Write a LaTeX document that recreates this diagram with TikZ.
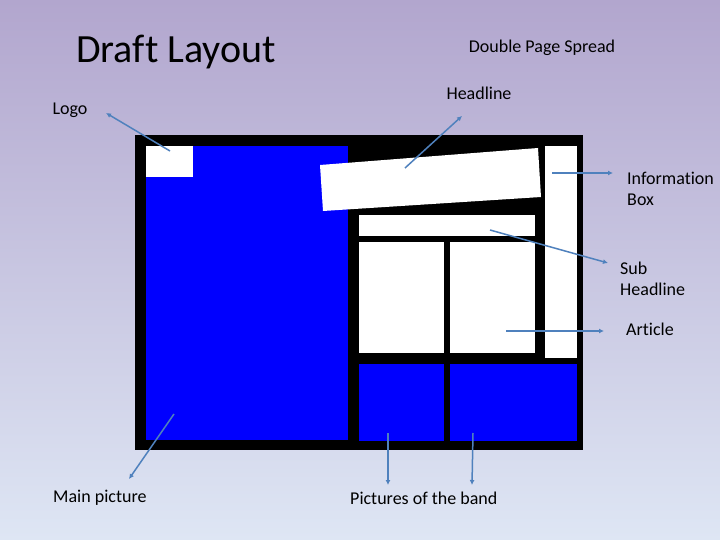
\documentclass[tikz,border=0pt]{standalone}
\usepackage{fontspec}
\setmainfont{Carlito}[Ligatures=NoCommon]
\usetikzlibrary{arrows.meta}
\definecolor{bgtop}{RGB}{178,166,206}
\definecolor{bgmid}{RGB}{198,209,233}
\definecolor{bgbot}{RGB}{222,230,244}
\definecolor{arrowc}{RGB}{79,129,189}
\definecolor{pblue}{RGB}{0,0,255}
\tikzset{
  arr/.style={draw=arrowc, line width=1.5pt, -{Latex[length=5pt,width=5pt]}},
  lbl/.style={inner sep=0pt, font=\fontsize{18}{21}\selectfont, align=left, text=black},
  whitebox/.style={fill=white},
  bluebox/.style={fill=pblue}
}
\begin{document}
\begin{tikzpicture}[x=1pt,y=-1pt]
\shade[top color=bgtop, middle color=bgmid, bottom color=bgbot] (0pt,0pt) rectangle (720pt,-540pt);
\useasboundingbox (0pt,0pt) rectangle (720pt,-540pt);
% frame
\fill[black] (135,135) rectangle (583,450);
\fill[bluebox] (146,146) rectangle (348,440);
\fill[whitebox] (146,146) rectangle (193,177);
\fill[whitebox] (320,165) -- (538,148) -- (541,197) -- (323,211) -- cycle;
\fill[whitebox] (545,146) rectangle (577,358);
\fill[whitebox] (359,215) rectangle (535,236);
\fill[whitebox] (359,242) rectangle (444,353);
\fill[whitebox] (450,242) rectangle (535,353);
\fill[bluebox] (359,364) rectangle (444,441);
\fill[bluebox] (450,364) rectangle (577,441);
% texts
\node[lbl, font=\fontsize{40}{46}\selectfont] (title) at (176,52) {Draft Layout};
\node[lbl] (dps) at (542,48) {Double Page Spread};
\node[lbl] (headline) at (479,93) {Headline};
\node[lbl] (logo) at (70,110) {Logo};
\node[lbl, anchor=west] (info) at (627,188.5) {Information\\Box};
\node[lbl, anchor=west] (sub) at (620,278.5) {Sub\\Headline};
\node[lbl, anchor=west] (article) at (626,329) {Article};
\node[lbl, anchor=west] (mainpic) at (53,498) {Main picture};
\node[lbl, anchor=west] (band) at (350,498) {Pictures of the band};
% arrow ends
\coordinate (logoS) at (170,151);
\coordinate (logoE) at (106,113);
\coordinate (headS) at (405,168);
\coordinate (headE) at (462,116);
\coordinate (infoS) at (552,173);
\coordinate (infoE) at (613,173);
\coordinate (subS) at (490,230);
\coordinate (subE) at (608,263);
\coordinate (artS) at (506,331);
\coordinate (artE) at (604,331);
\coordinate (mainS) at (174,414);
\coordinate (mainE) at (129,479);
\coordinate (b1S) at (388,433);
\coordinate (b1E) at (388,485);
\coordinate (b2S) at (473,433);
\coordinate (b2E) at (472,485);
\draw[arr] (logoS) -- (logoE);
\draw[arr] (headS) -- (headE);
\draw[arr] (infoS) -- (infoE);
\draw[arr] (subS) -- (subE);
\draw[arr] (artS) -- (artE);
\draw[arr] (mainS) -- (mainE);
\draw[arr] (b1S) -- (b1E);
\draw[arr] (b2S) -- (b2E);
\end{tikzpicture}
\end{document}
